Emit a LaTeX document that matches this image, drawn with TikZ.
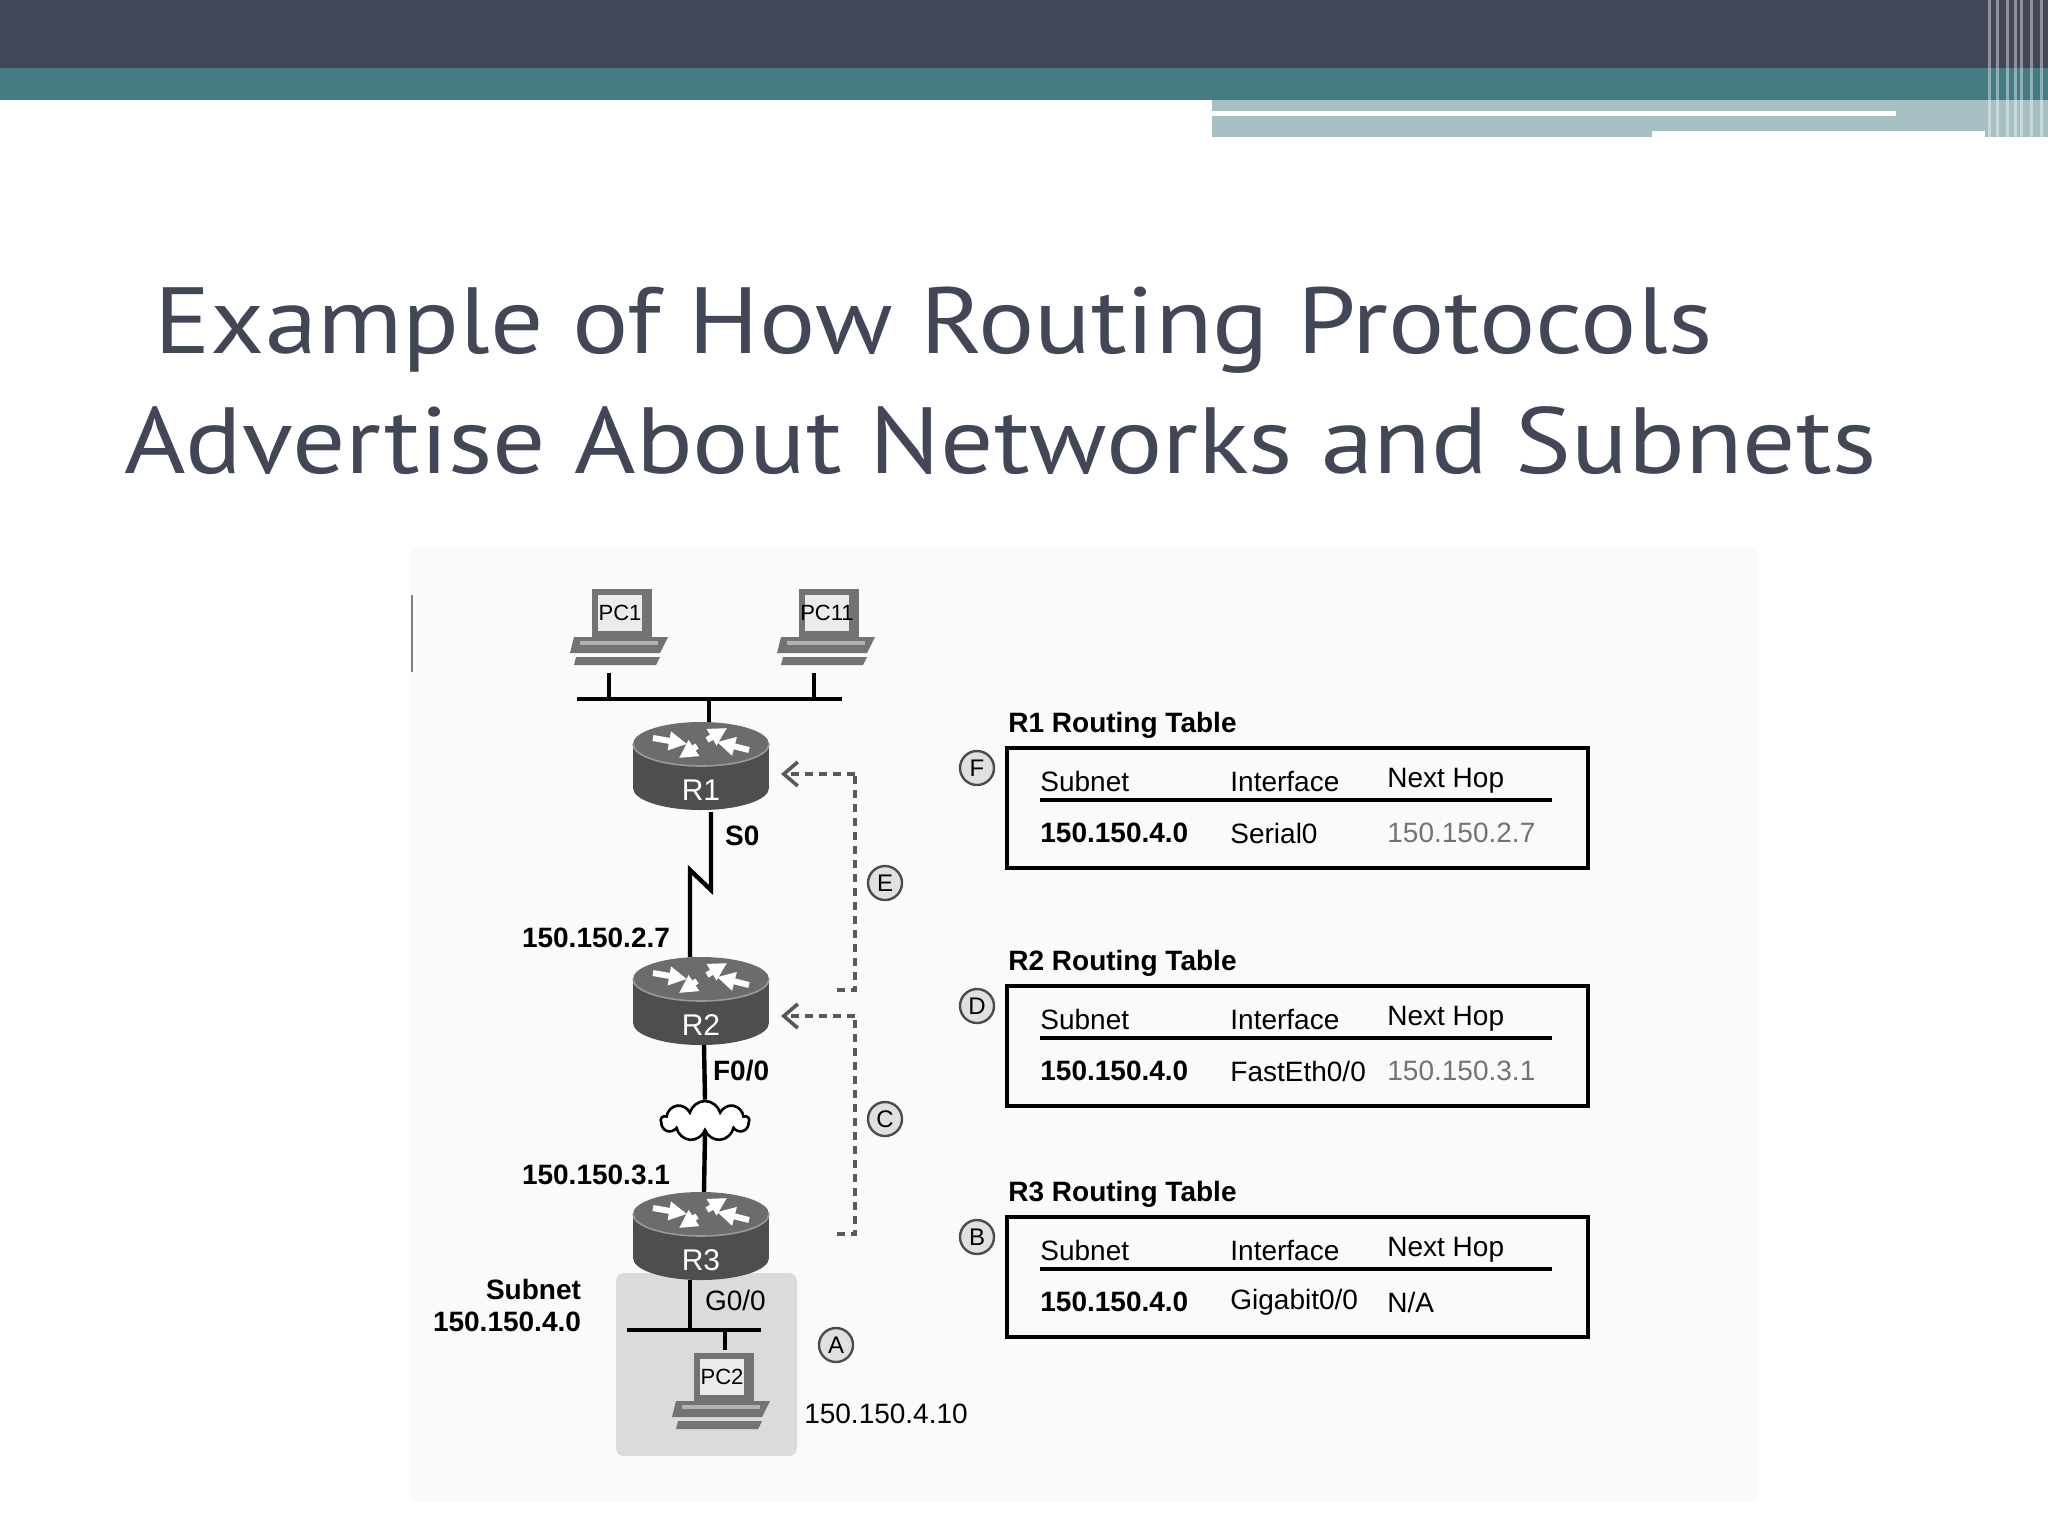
\documentclass[tikz,border=0pt]{standalone}
\usepackage{fontspec}
\setmainfont{Liberation Sans}
\newfontfamily\titlefont{PT Sans}
\usetikzlibrary{arrows.meta,shapes.symbols}
\definecolor{bar}{HTML}{414756}
\definecolor{teal}{HTML}{457C83}
\definecolor{lite}{HTML}{A6BFC3}
\definecolor{rdark}{HTML}{4E4E4E}
\definecolor{rtop}{HTML}{6C6C6C}
\tikzset{
 every node/.style={font=\fontsize{14}{16}\selectfont},
 lbl/.style={font=\bfseries\fontsize{14}{16}\selectfont},
 rbox/.style={minimum width=136,minimum height=88,inner sep=0},
 letter/.style={circle,draw=black!70,fill=black!12,line width=1.2pt,inner sep=0,minimum size=17pt,font=\fontsize{12}{12}\selectfont},
 adv/.style={line width=1.8pt,black!65,dash pattern=on 4pt off 3pt},
 tbl/.style={draw,line width=1.6pt},
 ttl/.style={anchor=base west,bar,font=\titlefont\fontsize{47}{47}\selectfont,inner sep=0},
 pics/router/.style={code={
   \fill[rdark] (0,24) ellipse[x radius=68,y radius=22];
   \fill[rdark] (-68,-20) rectangle (68,24);
   \fill[rtop] (0,-20) ellipse[x radius=68,y radius=22];
   \draw[black!40,line width=0.8pt] (-68,-20) arc[start angle=180,end angle=360,x radius=68,y radius=-22];
   \draw[white,line width=3pt,-{Triangle[length=9pt,width=9pt]}] (-48,-26) -- (-14,-20);
   \draw[white,line width=3pt,-{Triangle[length=9pt,width=9pt]}] (6,-24) -- (26,-36);
   \draw[white,line width=3pt,-{Triangle[length=9pt,width=9pt]}] (48,-14) -- (16,-22);
   \draw[white,line width=3pt,-{Triangle[length=9pt,width=9pt]}] (-4,-18) -- (-22,-6);
   \node[white,font=\fontsize{15}{15}\selectfont] at (0,26) {#1};
 }},
 pics/pc/.style={code={
   \fill[black!55] (-28,-38) rectangle (32,10);
   \fill[black!8] (-22,-32) rectangle (22,4);
   \node[font=\fontsize{11}{11}\selectfont] at (0,-14) {#1};
   \fill[black!55] (-46,10) -- (48,10) -- (40,26) -- (-50,26) -- cycle;
   \fill[black!30] (-40,14) rectangle (38,18);
   \fill[black!55] (-44,30) -- (40,30) -- (36,38) -- (-46,38) -- cycle;
 }},
}
\begin{document}
\begin{tikzpicture}[x=0.5pt,y=-0.5pt]
\useasboundingbox (0,0) rectangle (2048,1536);
\fill[white] (0,0) rectangle (2048,1536);
% header bars
\fill[lite] (0,89) rectangle (1212,100);
\fill[lite] (1212,100) rectangle (2048,137);
\fill[white] (1212,111) rectangle (1896,116);
\fill[white] (1652,131) rectangle (1985,137);
\fill[teal] (0,68) rectangle (2048,100);
\fill[bar] (0,0) rectangle (2048,68);
\foreach \xx in {1988,1996,2006,2014,2020,2030,2040}
  \fill[white,opacity=0.4] (\xx,0) rectangle ++(3,137);
% title
\node[ttl] (t1) at (154,353) {\scalebox{1.12}[1]{Example of How Routing Protocols}};
\node[ttl] (t2) at (124,473) {\scalebox{1.12}[1]{Advertise About Networks and Subnets}};
% diagram panel
\fill[black!2] (411,548) rectangle (1757,1502);
\draw[black!50,line width=1pt] (412,595) -- (412,672);
% LAN top
\pic at (620,627) {pc=PC1};
\pic at (827,627) {pc=PC11};
\coordinate (b1) at (577,699); \coordinate (b2) at (842,699);
\draw[line width=2.2pt] (b1) -- (b2);
\draw[line width=2.2pt] (609,673) -- (609,699) (814,673) -- (814,699);
% routers
\node[rbox] (R1) at (701,764) {}; \pic at (R1) {router=R1};
\node[rbox] (R2) at (701,999) {}; \pic at (R2) {router=R2};
\draw[line width=2.2pt] (709,699) -- (709,722);
\draw[line width=2.2pt] (711,812) -- (711,890) -- (690,870) -- (690,957);
\node[lbl,anchor=west] (s0) at (718,836) {S0};
\node[lbl,anchor=east] (ip1) at (677,938) {150.150.2.7};
\node[cloud,draw,line width=1.3pt,fill=white,cloud puffs=9,minimum width=44pt,minimum height=20pt,inner sep=0] (cl) at (705,1121) {};
\draw[line width=2.2pt] (704,1045) -- (cl.north);
\draw[line width=2.2pt] (cl.south) -- (704,1192);
\node[lbl,anchor=west] (f00) at (706,1071) {F0/0};
\node[lbl,anchor=east] (ip2) at (677,1175) {150.150.3.1};
% subnet box
\fill[black!14,rounded corners=4pt] (616,1273) rectangle (797,1456);
\node[rbox] (R3) at (701,1234) {}; \pic at (R3) {router=R3};
\node[lbl,anchor=east,align=right] (sn) at (588,1305) {Subnet\\150.150.4.0};
\draw[line width=2.2pt] (690,1280) -- (690,1330);
\node[anchor=west] (g00) at (698,1300) {G0/0};
\draw[line width=2.2pt] (627,1330) -- (761,1330);
\draw[line width=2.2pt] (725,1330) -- (725,1350);
\pic at (722,1391) {pc=PC2};
\node[letter] (A) at (836,1345) {A};
\node (ip4) at (886,1414) {150.150.4.10};
% advertisements
\coordinate (e1) at (855,990); \coordinate (e2) at (855,774);
\draw[adv] (R2.east) ++(0,-9) -- (e1) -- (e2);
\draw[adv,-{Straight Barb[length=7pt,width=12pt]}] (e2) -- (781,774);
\node[letter] (E) at (885,883) {E};
\coordinate (c1) at (855,1234); \coordinate (c2) at (855,1016);
\draw[adv] (R3.east) -- (c1) -- (c2);
\draw[adv,-{Straight Barb[length=7pt,width=12pt]}] (c2) -- (781,1016);
\node[letter] (C) at (885,1119) {C};
% tables
\foreach \nm/\lt/\top/\iface/\nh/\nhc in {R1/F/748/Serial0/150.150.2.7/black!55, R2/D/986/{FastEth0/0}/150.150.3.1/black!55, R3/B/1217/{Gigabit0/0}/{N/A}/black}{
  \node[anchor=west,lbl,inner sep=0] (\nm title) at (1008,\top-23) {\nm\ Routing Table};
  \draw[tbl] (1007,\top) rectangle (1588,\top+120);
  \node[letter] (\nm let) at (977,\top+20) {\lt};
  \node[anchor=west,inner sep=0] at (1040,\top+33) {Subnet};
  \node[anchor=west,inner sep=0] at (1230,\top+33) {Interface};
  \node[anchor=west,inner sep=0] at (1387,\top+33) {Next Hop};
  \draw[line width=1.6pt] (1040,\top+52) -- (1552,\top+52);
  \node[anchor=west,lbl,inner sep=0] at (1040,\top+85) {150.150.4.0};
  \node[anchor=west,inner sep=0] at (1230,\top+85) {\iface};
  \node[anchor=west,inner sep=0,text=\nhc] at (1387,\top+85) {\nh};
}
\end{tikzpicture}
\end{document}
